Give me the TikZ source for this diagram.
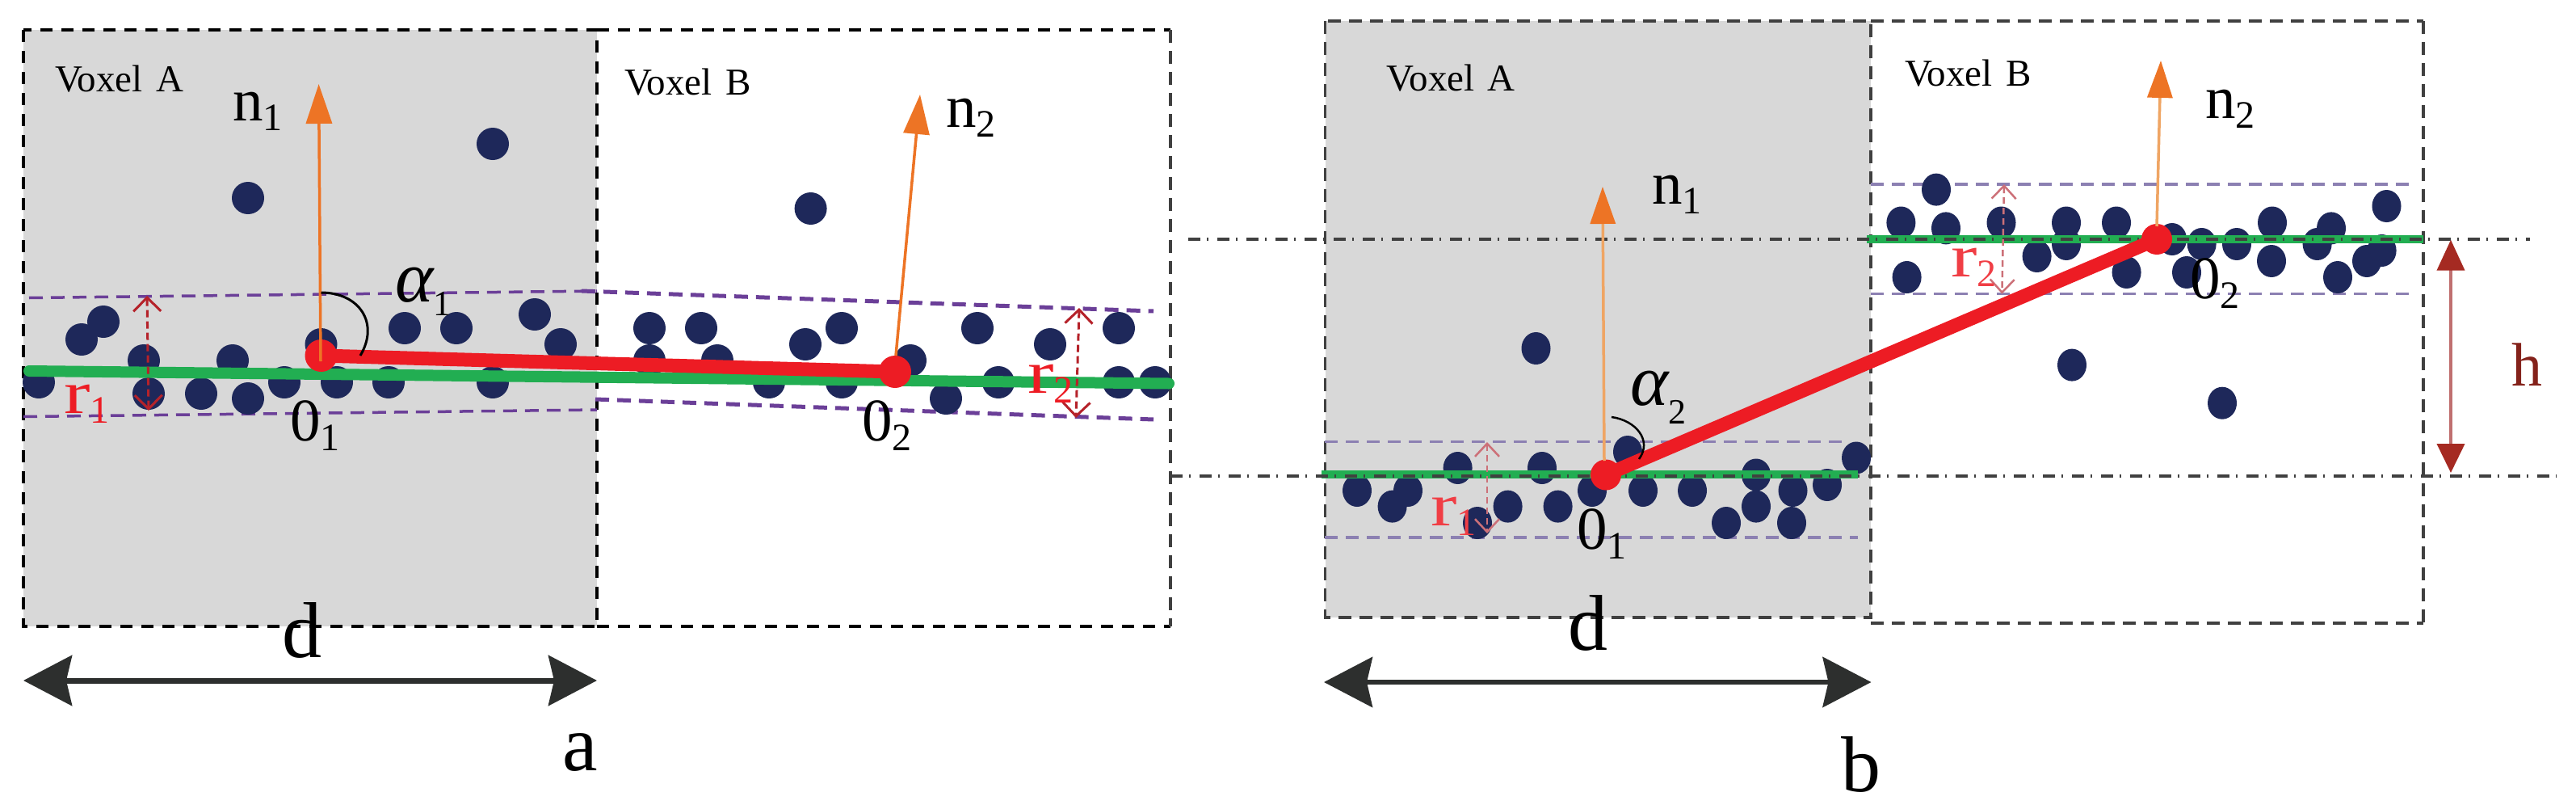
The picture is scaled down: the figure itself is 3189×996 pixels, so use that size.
\documentclass[tikz,border=0pt]{standalone}
\usepackage{fontspec}
\setmainfont{Liberation Serif}
\usetikzlibrary{arrows.meta,shapes.geometric}
\definecolor{vgrey}{HTML}{D8D8D8}
\definecolor{navy}{HTML}{1E285A}
\definecolor{pgreen}{HTML}{22AE52}
\definecolor{pred}{HTML}{ED1C24}
\definecolor{porange}{HTML}{ED7425}
\definecolor{fadeorange}{HTML}{EFA564}
\definecolor{ppurple}{HTML}{6B3F98}
\definecolor{fadepurple}{HTML}{8C80B2}
\definecolor{dred}{HTML}{B5222A}
\definecolor{fadedred}{HTML}{CC7078}
\definecolor{hbrown}{HTML}{A52A22}
\definecolor{hshaft}{HTML}{C07070}
\definecolor{darkarrow}{HTML}{2D2F2E}
\newcommand\lblm[2]{{\fontsize{75}{75}\selectfont #1}\raisebox{-12pt}{\fontsize{48}{48}\selectfont #2}}
\newcommand\lblr[2]{\scalebox{1.3}[1]{\fontsize{75}{75}\selectfont #1}\raisebox{-12pt}{\fontsize{48}{48}\selectfont #2}}
\newcommand\lblalpha[2]{{\fontsize{90}{90}\selectfont\itshape α}\raisebox{-#2pt}{\fontsize{44}{44}\selectfont #1}}
\tikzset{
  txt/.style={anchor=base west,inner sep=0pt,outer sep=0pt,text=black},
  voxeltxt/.style={txt,font=\fontsize{47}{47}\selectfont},
  bigtxt/.style={txt,font=\fontsize{98}{98}\selectfont},
  dota/.style={circle,fill=navy,inner sep=0pt,minimum size=40pt},
  dotb/.style={ellipse,fill=navy,inner sep=0pt,minimum width=36pt,minimum height=40pt},
  redpt/.style={circle,fill=pred,inner sep=0pt,minimum size=40pt},
  boxa/.style={draw=black,line width=3.5pt,dash pattern=on 15pt off 11pt},
  boxb/.style={draw=black!75,line width=3.5pt,dash pattern=on 16pt off 10pt},
  purplea/.style={draw=ppurple,line width=3.5pt,dash pattern=on 17pt off 10pt},
  purpleb/.style={draw=ppurple,line width=5pt,dash pattern=on 17pt off 10pt},
  purplec/.style={draw=fadepurple,line width=3.5pt,dash pattern=on 16pt off 10pt},
  greenln/.style={draw=pgreen,line width=14pt,line cap=round},
  greenlnb/.style={draw=pgreen,line width=10pt,line cap=butt},
  redln/.style={draw=pred,line width=17pt},
  normala/.style={draw=porange,line width=3.5pt,-{Triangle[length=49pt,width=32pt]}},
  normalb/.style={draw=fadeorange,line width=3.5pt,-{Triangle[length=46pt,width=31pt,color=porange]}},
  radiusa/.style={draw=dred,line width=3pt,dash pattern=on 9pt off 5pt,{Straight Barb[length=17pt,width=34pt]}-{Straight Barb[length=17pt,width=34pt]}},
  radiusb/.style={draw=fadedred,line width=2.5pt,dash pattern=on 8pt off 5pt,{Straight Barb[length=16pt,width=30pt]}-{Straight Barb[length=16pt,width=30pt]}},
  arcln/.style={draw=black,line width=3pt},
  dist/.style={draw=darkarrow,line width=7pt,{Stealth[length=60pt,width=62pt,inset=7pt]}-{Stealth[length=60pt,width=62pt,inset=7pt]}},
  level/.style={draw=black!75,line width=3.5pt,dash pattern=on 15pt off 8pt on 2pt off 11pt},
  harrow/.style={draw=hshaft,line width=4pt,{Triangle[length=38pt,width=34pt,color=hbrown]}-{Triangle[length=36pt,width=34pt,color=hbrown]}},
}
\begin{document}
\begin{tikzpicture}[x=1pt,y=-1pt]
\useasboundingbox (0,0) rectangle (3189,996);
% ---------- panel a ----------
\fill[vgrey] (29,37) rectangle (739,775);
\draw[boxa] (29,37) rectangle (739,775);
\draw[boxa] (739,37) -- (1449,37);
\draw[boxa] (739,775) -- (1449,775);
\draw[boxb] (1449,37) -- (1449,775);
\coordinate (pa1) at (36,368.5); \coordinate (pa2) at (739,360);
\coordinate (pa3) at (29,515.5); \coordinate (pa4) at (739,507);
\coordinate (pb1) at (720,360); \coordinate (pb2) at (1428,385);
\coordinate (pb3) at (737,494); \coordinate (pb4) at (1428,519);
\draw[purplea] (pa1) -- (pa2);
\draw[purplea] (pa3) -- (pa4);
\draw[purpleb] (pb1) -- (pb2);
\draw[purpleb] (pb3) -- (pb4);
\foreach \x/\y [count=\i] in {610/178,307/245,128/398,101/420,178/446,288/446,397.5/426,501/406,565/406,662/389,694/426,48/473,184/487,249/487,307/493,352/473,417/473,481/473,610/473,1003.6/258,804/406,868/406,804/446,888/446,997/426,1042/406,952/473,1042/473,1127/446,1171/493,1210/406,1300/426,1236/473,1385/406,1385/473,1430/473}
  \node[dota] (da\i) at (\x,\y) {};
\coordinate (ga1) at (36,459); \coordinate (ga2) at (1447,474.5);
\draw[greenln] (ga1) -- (ga2);
\node[redpt] (o1a) at (397.5,440) {};
\node[redpt] (o2a) at (1108,460) {};
\draw[redln] (o1a.center) -- (o2a.center);
\coordinate (n1a) at (394.6,104); \coordinate (n2a) at (1139,117);
\coordinate (n1as) at (397,447); \coordinate (n2as) at (1109,440);
\draw[normala] (n1as) -- (n1a);
\draw[normala] (n2as) -- (n2a);
\coordinate (r1a) at (182,366); \coordinate (r1b) at (184,508);
\coordinate (r2a) at (1336,381); \coordinate (r2b) at (1332,517);
\draw[radiusa] (r1a) -- (r1b);
\draw[radiusa] (r2a) -- (r2b);
\coordinate (ar1) at (397.5,362); \coordinate (ar2) at (446,440);
\draw[arcln] (ar1) .. controls (445,362) and (470,400) .. (ar2);
\coordinate (dal) at (29,842); \coordinate (dar) at (739,842);
\draw[dist] (dal) -- (dar);
\node[voxeltxt] (va) at (68,113) {Voxel\hspace{.35em}A};
\node[voxeltxt] (vb) at (773,117) {Voxel\hspace{.35em}B};
\node[txt] (tn1) at (288,149) {\lblm{n}{1}};
\node[txt] (tn2) at (1171,157) {\lblm{n}{2}};
\node[txt] (ta1) at (489,373) {\lblalpha{1}{17}};
\node[txt] (to1) at (359,545) {\lblm{0}{1}};
\node[txt] (to2) at (1067,545) {\lblm{0}{2}};
\node[txt,text=pred] (tr1) at (79,511) {\lblr{r}{1}};
\node[txt,text=pred] (tr2) at (1272,486) {\lblr{r}{2}};
\node[bigtxt] (td) at (349,813) {d};
\node[bigtxt] (tpa) at (696,953) {a};
% ---------- panel b ----------
\fill[vgrey] (1640.5,26) rectangle (2316,764);
\draw[boxb] (1640.5,26) rectangle (2316,764);
\draw[boxb] (2316,26) -- (3000,26);
\draw[boxb] (3000,26) -- (3000,771);
\draw[boxb] (2316,771) -- (3000,771);
\coordinate (pc1) at (1640,546.6); \coordinate (pc2) at (2288,546.6);
\coordinate (pc3) at (1640,665); \coordinate (pc4) at (2300,665);
\coordinate (pd1) at (2316,228); \coordinate (pd2) at (2987,228);
\coordinate (pd3) at (2316,363.6); \coordinate (pd4) at (2987,363.6);
\draw[purplec] (pc1) -- (pc2);
\draw[purplec] (pc3) -- (pc4);
\draw[purplec] (pd1) -- (pd2);
\draw[purplec] (pd3) -- (pd4);
\foreach \x/\y [count=\i] in {1901.5/431,1804.6/579,1909/579,2015/559,1680/607,1743/607,1723.6/626.6,1866.6/626.6,1928.6/626.6,1829/647,1971/607,2034/607,2095/607,2174/587.5,2174/626.6,2137/647,2219.5/607,2218/647,2262/600,2298/566.5,2397/234.6,2353.4/275.5,2409/282.4,2477.5/275.5,2558/275.5,2558/302,2620/275.5,2521.6/317,2632.6/337,2360.6/343,2689/296,2725.6/302,2769/302,2707/337,2813/275.5,2812/323,2868.6/302,2886/282.4,2894/343,2930/323,2948.6/310,2954.5/255,2565/451.6,2751/498.7}
  \node[dotb] (db\i) at (\x,\y) {};
\coordinate (gc1) at (1636,587); \coordinate (gc2) at (2300,587);
\coordinate (gd1) at (2311,296); \coordinate (gd2) at (3000,296);
\draw[greenlnb] (gc1) -- (gc2);
\draw[greenlnb] (gd1) -- (gd2);
\coordinate (la1) at (1471,296); \coordinate (la2) at (3132,296);
\coordinate (lb1) at (1449,589); \coordinate (lb2) at (3165,589);
\draw[level] (la1) -- (la2);
\draw[level] (lb1) -- (lb2);
\node[redpt,minimum size=38pt] (o1b) at (1988,587.5) {};
\node[redpt,minimum size=38pt] (o2b) at (2670,296) {};
\draw[redln] (o1b.center) -- (o2b.center);
\coordinate (n1bs) at (1986,570); \coordinate (n1bt) at (1984,231);
\coordinate (n2bs) at (2670,280); \coordinate (n2bt) at (2675,75);
\draw[normalb] (n1bs) -- (n1bt);
\draw[normalb] (n2bs) -- (n2bt);
\coordinate (r1c) at (1841,547); \coordinate (r1d) at (1841,660);
\coordinate (r2c) at (2481,228); \coordinate (r2d) at (2478.4,363.6);
\draw[radiusb] (r1c) -- (r1d);
\draw[radiusb] (r2c) -- (r2d);
\coordinate (ar3) at (1995,516); \coordinate (ar4) at (2029,568);
\draw[arcln,line width=2.5pt] (ar3) .. controls (2025,520) and (2046,545) .. (ar4);
\coordinate (dbl) at (1639,844); \coordinate (dbr) at (2316.5,844);
\draw[dist,line width=6pt] (dbl) -- (dbr);
\coordinate (ht) at (3034,296.7); \coordinate (hb) at (3034,585);
\draw[harrow] (ht) -- (hb);
\node[voxeltxt] (vc) at (1716.6,112) {Voxel\hspace{.35em}A};
\node[voxeltxt] (vd) at (2358,106) {Voxel\hspace{.35em}B};
\node[txt] (tn3) at (2045,252) {\lblm{n}{1}};
\node[txt] (tn4) at (2730,146) {\lblm{n}{2}};
\node[txt] (ta2) at (2018,501) {\lblalpha{2}{23}};
\node[txt] (to3) at (1952,679) {\lblm{0}{1}};
\node[txt] (to4) at (2711,369) {\lblm{0}{2}};
\node[txt,text=pred!85!white] (tr3) at (1771,650) {\lblr{r}{1}};
\node[txt,text=pred!85!white] (tr4) at (2415,342) {\lblr{r}{2}};
\node[bigtxt] (te) at (1941,804) {d};
\node[bigtxt] (tpb) at (2279,979) {b};
\node[txt,text=hbrown!80!black,font=\fontsize{76}{76}\selectfont] (th) at (3109,477) {h};
\end{tikzpicture}
\end{document}
